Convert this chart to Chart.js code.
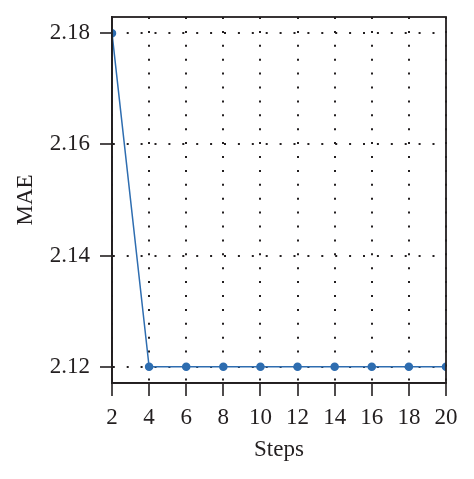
<!DOCTYPE html>
<html>
<head>
<meta charset="utf-8">
<script src="https://cdn.jsdelivr.net/npm/chart.js@4.4.0/dist/chart.umd.min.js"></script>
<style>
html,body{margin:0;padding:0;background:#fff;}
#wrap{width:474px;height:479px;position:relative;}
</style>
</head>
<body>
<div id="wrap"><canvas id="c" width="474" height="479"></canvas></div>
<script>
const steps = [2, 4, 6, 8, 10, 12, 14, 16, 18, 20];
const maeValues = [2.18, 2.12, 2.12, 2.12, 2.12, 2.12, 2.12, 2.12, 2.12, 2.12];
const yTickValues = [2.12, 2.14, 2.16, 2.18];
const xTitle = 'Steps';
const yTitle = 'MAE';

const FONT = "'Liberation Serif', 'Times New Roman', serif";
const ink = '#231f20';

const boxPlugin = {
  id: 'box',
  afterDraw(chart) {
    const {ctx, chartArea: a} = chart;
    ctx.save();
    ctx.setLineDash([]);
    ctx.strokeStyle = ink;
    ctx.lineWidth = 1.8;
    ctx.strokeRect(a.left, a.top, a.right - a.left, a.bottom - a.top);
    ctx.restore();
  }
};

new Chart(document.getElementById('c'), {
  type: 'line',
  data: {
    datasets: [{
      data: steps.map((s, i) => ({x: s, y: maeValues[i]})),
      borderColor: '#2e6db0',
      backgroundColor: '#2e6db0',
      borderWidth: 1.5,
      pointRadius: 3.5,
      pointHoverRadius: 3.5,
      tension: 0,
      clip: 0
    }]
  },
  options: {
    responsive: false,
    animation: false,
    devicePixelRatio: 1,
    layout: {padding: {top: 17, right: 28, left: 0, bottom: 0}},
    plugins: {legend: {display: false}, tooltip: {enabled: false}},
    scales: {
      x: {
        type: 'linear',
        min: 2, max: 20,
        afterBuildTicks: s => { s.ticks = steps.map(v => ({value: v})); },
        afterFit: s => { s.height = 96; },
        grid: {
          color: ink, lineWidth: 2,
          tickLength: 13, tickColor: ink, tickWidth: 1.6, tickBorderDash: []
        },
        border: {display: true, color: ink, width: 1.8, dash: [2, 11.9]},
        ticks: {
          color: ink, padding: 8, maxRotation: 0, autoSkip: false,
          font: {family: FONT, size: 23},
          callback: v => String(v)
        },
        title: {
          display: true, text: xTitle, color: ink,
          font: {family: FONT, size: 23},
          padding: {top: 0, bottom: 15}
        }
      },
      y: {
        min: 2.1171, max: 2.1829,
        afterBuildTicks: s => { s.ticks = yTickValues.map(v => ({value: v})); },
        afterFit: s => { s.width = 112; s.paddingTop = 0; s.paddingBottom = 0; },
        grid: {
          color: ink, lineWidth: 2,
          tickLength: 12, tickColor: ink, tickWidth: 1.6, tickBorderDash: []
        },
        border: {display: true, color: ink, width: 1.8, dash: [2, 11.9]},
        ticks: {
          color: ink, padding: 10, autoSkip: false,
          font: {family: FONT, size: 23},
          callback: v => Number(v).toFixed(2)
        },
        title: {
          display: true, text: yTitle, color: ink,
          font: {family: FONT, size: 23},
          padding: {top: 12, bottom: 0}
        }
      }
    }
  },
  plugins: [boxPlugin]
});
</script>
</body>
</html>
